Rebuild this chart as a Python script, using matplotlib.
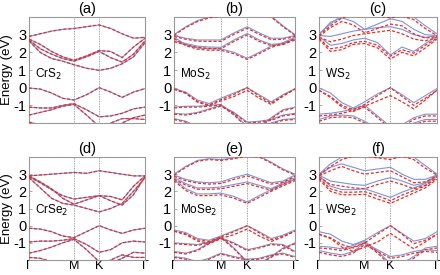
import matplotlib
matplotlib.use('Agg')
import matplotlib.pyplot as plt

plt.rcParams['font.family'] = ['Liberation Sans', 'DejaVu Sans']
plt.rcParams['axes.unicode_minus'] = False

# k-path sample points: Gamma, 3 pts, M, 1 pt, K, 3 pts, Gamma
K_POS = [0.0, 0.097, 0.194, 0.29, 0.387, 0.496, 0.605, 0.704, 0.803, 0.901, 1.0]
K_TICKS = [0.0, 0.387, 0.605, 1.0]
K_LABELS = ['Γ', 'M', 'K', 'Γ']

PANEL_TITLES = ['(a)', '(b)', '(c)', '(d)', '(e)', '(f)']
MATERIALS = ['CrS$_2$', 'MoS$_2$', 'WS$_2$', 'CrSe$_2$', 'MoSe$_2$', 'WSe$_2$']
LABEL_Y = [0.75, 0.75, 0.75, 0.9, 0.9, 0.9]

CRS2_BLUE = [
    [2.90, 3.05, 3.20, 3.30, 3.35, 3.45, 3.55, 3.35, 3.05, 2.80, 2.85],
    [2.75, 2.45, 2.05, 1.75, 1.55, 1.80, 2.10, 2.05, 1.70, 2.30, 2.80],
    [2.70, 2.20, 1.90, 1.65, 1.50, 1.75, 2.05, 1.70, 1.45, 1.90, 2.65],
    [2.65, 2.00, 1.65, 1.50, 1.30, 1.10, 0.98, 1.10, 1.35, 1.75, 2.55],
    [-0.02, -0.08, -0.30, -0.60, -0.70, -0.40, 0.00, -0.25, -0.55, -0.25, -0.05],
    [-1.10, -1.15, -1.15, -1.00, -0.90, -1.25, -1.65, -1.60, -1.45, -1.20, -1.10],
    [-1.55, -1.40, -1.25, -1.05, -0.95, -1.55, -2.20, -2.30, -2.00, -1.70, -1.55],
    [-1.95, -2.10, -2.30, -2.40, -2.50, -2.40, -2.30, -2.00, -1.75, -1.75, -1.80],
]
CRS2_RED = CRS2_BLUE

MOS2_BLUE = [
    [2.85, 2.45, 2.25, 2.20, 2.20, 2.00, 1.66, 2.00, 2.35, 2.55, 2.85],
    [2.65, 2.50, 2.35, 2.30, 2.28, 2.70, 3.07, 2.70, 2.45, 2.50, 2.75],
    [2.95, 2.80, 2.70, 2.70, 2.70, 3.10, 3.45, 3.10, 2.80, 2.80, 2.95],
    [3.00, 3.45, 3.80, 4.00, 4.10, 4.30, 4.40, 4.30, 4.05, 3.50, 3.00],
    [-0.05, -0.25, -0.70, -0.90, -0.60, -0.30, 0.00, -0.40, -0.80, -0.40, -0.05],
    [-1.10, -1.05, -1.05, -1.00, -0.95, -1.50, -2.20, -2.20, -1.70, -1.25, -1.10],
    [-1.45, -1.50, -1.40, -1.20, -1.00, -1.40, -1.95, -1.90, -1.80, -1.55, -1.45],
    [-1.75, -1.90, -2.20, -2.40, -2.50, -2.50, -2.50, -2.30, -2.00, -1.80, -1.75],
]
MOS2_RED = [
    [2.78, 2.38, 2.18, 2.12, 2.12, 1.92, 1.60, 1.92, 2.28, 2.48, 2.78],
    [2.60, 2.42, 2.28, 2.22, 2.20, 2.62, 2.98, 2.62, 2.38, 2.44, 2.70],
    [2.90, 2.74, 2.63, 2.62, 2.62, 3.02, 3.36, 3.02, 2.72, 2.74, 2.90],
    [2.96, 3.40, 3.74, 3.95, 4.05, 4.25, 4.35, 4.25, 4.00, 3.45, 2.96],
    [-0.08, -0.30, -0.78, -0.98, -0.68, -0.38, 0.00, -0.48, -0.88, -0.46, -0.08],
    [-0.08, -0.32, -0.82, -1.02, -0.75, -0.50, -0.15, -0.60, -0.95, -0.48, -0.08],
    [-1.15, -1.10, -1.10, -1.05, -0.98, -1.55, -2.25, -2.25, -1.75, -1.30, -1.15],
    [-1.50, -1.55, -1.45, -1.25, -1.05, -1.45, -2.00, -1.95, -1.85, -1.60, -1.50],
    [-1.80, -1.95, -2.25, -2.45, -2.55, -2.55, -2.55, -2.35, -2.05, -1.85, -1.80],
]

WS2_BLUE = [
    [2.90, 2.40, 2.50, 2.70, 2.80, 2.55, 1.85, 2.30, 2.05, 2.50, 2.90],
    [2.95, 2.90, 3.05, 3.20, 3.30, 3.40, 3.45, 3.30, 3.00, 2.85, 2.95],
    [3.00, 3.70, 3.95, 3.75, 3.30, 3.60, 3.90, 3.75, 3.30, 3.00, 2.95],
    [3.05, 3.60, 4.10, 4.30, 4.30, 4.20, 4.10, 4.20, 4.00, 3.50, 3.05],
    [-0.02, -0.30, -0.85, -1.15, -0.80, -0.35, 0.00, -0.40, -0.85, -0.45, -0.05],
    [-1.50, -1.45, -1.35, -1.20, -1.00, -1.60, -2.20, -2.10, -1.70, -1.50, -1.50],
    [-1.80, -1.60, -1.55, -1.60, -1.90, -2.30, -2.50, -2.30, -2.00, -1.80, -1.80],
]
WS2_RED = [
    [2.75, 2.05, 2.15, 2.45, 2.50, 2.25, 1.62, 2.00, 1.80, 2.25, 2.75],
    [2.80, 2.20, 2.30, 2.55, 2.62, 2.40, 1.78, 2.15, 1.95, 2.40, 2.80],
    [2.85, 2.60, 2.75, 2.95, 3.05, 3.15, 3.25, 3.05, 2.75, 2.65, 2.85],
    [2.90, 3.40, 3.75, 3.55, 3.10, 3.35, 3.60, 3.50, 3.05, 2.80, 2.90],
    [2.95, 3.50, 3.95, 4.15, 4.15, 4.05, 3.95, 4.05, 3.85, 3.35, 2.95],
    [-0.15, -0.50, -1.00, -1.25, -0.95, -0.45, 0.00, -0.50, -1.00, -0.60, -0.15],
    [-0.15, -0.55, -1.10, -1.35, -1.05, -0.75, -0.45, -0.80, -1.20, -0.70, -0.15],
    [-1.60, -1.55, -1.45, -1.30, -1.10, -1.70, -2.30, -2.20, -1.80, -1.60, -1.60],
    [-1.90, -1.70, -1.65, -1.70, -2.00, -2.40, -2.60, -2.40, -2.10, -1.90, -1.90],
]

CRSE2_BLUE = [
    [2.90, 2.95, 3.00, 3.05, 3.10, 3.05, 3.20, 3.10, 3.00, 2.90, 2.90],
    [2.85, 2.50, 2.10, 1.75, 1.55, 1.65, 1.75, 1.45, 1.20, 1.80, 2.85],
    [2.90, 2.55, 2.15, 1.60, 1.25, 1.50, 1.75, 1.70, 1.50, 2.30, 2.90],
    [2.80, 2.20, 1.60, 1.30, 1.20, 1.00, 0.80, 1.00, 1.30, 2.00, 2.80],
    [-0.15, -0.20, -0.35, -0.60, -0.70, -0.35, 0.00, -0.25, -0.45, -0.25, -0.15],
    [-0.95, -0.90, -0.90, -0.85, -0.75, -1.10, -1.55, -1.40, -1.00, -0.90, -0.95],
    [-1.60, -1.45, -1.25, -1.00, -0.80, -1.40, -2.10, -2.20, -1.90, -1.55, -1.60],
    [-1.85, -1.90, -2.10, -2.20, -2.30, -2.30, -2.30, -2.00, -1.70, -1.85, -1.85],
]
CRSE2_RED = CRSE2_BLUE

MOSE2_BLUE = [
    [2.70, 2.15, 1.85, 1.85, 1.90, 1.70, 1.38, 1.75, 2.10, 2.40, 2.70],
    [2.80, 2.45, 2.20, 2.20, 2.25, 2.40, 2.55, 2.35, 2.15, 2.50, 2.80],
    [2.95, 2.70, 2.55, 2.50, 2.55, 2.80, 3.00, 2.75, 2.50, 2.60, 2.95],
    [3.00, 3.45, 3.80, 3.90, 3.85, 3.95, 4.10, 4.05, 3.70, 3.30, 3.00],
    [-0.25, -0.40, -0.75, -0.85, -0.60, -0.30, 0.00, -0.35, -0.75, -0.55, -0.25],
    [-1.00, -1.05, -1.10, -0.95, -0.65, -1.30, -2.10, -2.20, -1.80, -1.30, -1.00],
    [-1.50, -1.60, -1.40, -1.00, -0.70, -1.00, -1.40, -1.25, -1.05, -1.10, -1.50],
    [-1.80, -1.90, -2.10, -1.90, -1.60, -1.80, -1.95, -1.90, -1.70, -1.60, -1.80],
]
MOSE2_RED = [
    [2.62, 2.05, 1.75, 1.75, 1.80, 1.60, 1.30, 1.65, 2.00, 2.32, 2.62],
    [2.72, 2.36, 2.12, 2.12, 2.15, 2.30, 2.45, 2.25, 2.06, 2.42, 2.72],
    [2.88, 2.62, 2.48, 2.42, 2.46, 2.70, 2.90, 2.66, 2.42, 2.52, 2.88],
    [2.95, 3.40, 3.75, 3.85, 3.80, 3.90, 4.05, 4.00, 3.65, 3.25, 2.95],
    [-0.32, -0.48, -0.82, -0.92, -0.66, -0.35, 0.00, -0.42, -0.82, -0.62, -0.32],
    [-0.32, -0.52, -0.90, -1.02, -0.75, -0.52, -0.20, -0.60, -0.92, -0.66, -0.32],
    [-1.05, -1.10, -1.15, -1.00, -0.70, -1.35, -2.15, -2.25, -1.85, -1.35, -1.05],
    [-1.55, -1.65, -1.45, -1.05, -0.75, -1.05, -1.45, -1.30, -1.10, -1.15, -1.55],
    [-1.85, -1.95, -2.15, -1.95, -1.65, -1.85, -2.00, -1.95, -1.75, -1.65, -1.85],
]

WSE2_BLUE = [
    [2.90, 2.30, 2.10, 2.10, 2.15, 1.90, 1.65, 1.95, 2.20, 2.45, 2.90],
    [2.95, 2.60, 2.50, 2.40, 2.35, 2.60, 2.80, 2.60, 2.35, 2.50, 2.95],
    [2.95, 3.40, 3.60, 3.40, 3.20, 3.30, 3.40, 3.00, 2.70, 2.70, 2.95],
    [3.00, 3.60, 4.00, 4.20, 4.20, 4.10, 4.00, 4.20, 4.00, 3.50, 3.00],
    [-0.35, -0.50, -0.90, -1.10, -0.85, -0.40, 0.00, -0.45, -0.90, -0.75, -0.35],
    [-1.20, -1.25, -1.35, -1.15, -0.90, -1.50, -2.20, -2.20, -1.80, -1.30, -1.20],
    [-1.45, -1.60, -1.70, -1.50, -1.00, -1.40, -1.80, -1.70, -1.50, -1.40, -1.45],
]
WSE2_RED = [
    [2.70, 2.00, 1.80, 1.80, 1.82, 1.55, 1.30, 1.60, 1.90, 2.20, 2.70],
    [2.78, 2.15, 1.95, 1.95, 1.98, 1.75, 1.45, 1.78, 2.05, 2.32, 2.78],
    [2.85, 2.40, 2.30, 2.20, 2.15, 2.40, 2.60, 2.40, 2.15, 2.35, 2.85],
    [2.90, 3.20, 3.45, 3.20, 3.00, 3.10, 3.20, 2.85, 2.50, 2.55, 2.90],
    [2.95, 3.45, 3.85, 4.05, 4.05, 3.95, 3.85, 4.05, 3.85, 3.35, 2.95],
    [-0.50, -0.70, -1.10, -1.30, -1.00, -0.50, 0.00, -0.50, -1.05, -0.85, -0.50],
    [-0.50, -0.75, -1.25, -1.50, -1.25, -0.95, -0.45, -0.90, -1.35, -0.95, -0.50],
    [-1.30, -1.35, -1.45, -1.25, -1.00, -1.60, -2.30, -2.30, -1.90, -1.40, -1.30],
    [-1.55, -1.70, -1.80, -1.60, -1.10, -1.50, -1.90, -1.80, -1.60, -1.50, -1.55],
]

BLUE_SETS = [CRS2_BLUE, MOS2_BLUE, WS2_BLUE, CRSE2_BLUE, MOSE2_BLUE, WSE2_BLUE]
RED_SETS = [CRS2_RED, MOS2_RED, WS2_RED, CRSE2_RED, MOSE2_RED, WSE2_RED]

# axes boxes in pixels (left, right, top, bottom) on a 440x275 canvas
COL_X = [(29, 145), (174, 295), (319, 437)]
ROW_Y = [(17, 123), (157, 260)]
W, H = 440.0, 275.0

BLUE = '#7f93d6'
RED = '#e3302b'
GRID = '#888888'

fig = plt.figure(figsize=(4.4, 2.75), dpi=100)

for i in range(6):
    r, c = divmod(i, 3)
    x0, x1 = COL_X[c]
    y0, y1 = ROW_Y[r]
    ax = fig.add_axes([x0 / W, 1 - y1 / H, (x1 - x0) / W, (y1 - y0) / H])

    for band in BLUE_SETS[i]:
        ax.plot(K_POS, band, color=BLUE, lw=0.8, zorder=2)
    for band in RED_SETS[i]:
        ax.plot(K_POS, band, color=RED, lw=0.9, ls=(0, (2.5, 1.5)), zorder=3)

    for xk in K_TICKS[1:3]:
        ax.axvline(xk, color=GRID, lw=0.6, ls=(0, (1, 1)), zorder=1)

    ax.set_xlim(0, 1)
    ax.set_ylim(-2, 4)
    ax.set_yticks([-1, 0, 1, 2, 3])
    ax.set_xticks(K_TICKS)
    if r == 1:
        ax.set_xticklabels(K_LABELS, fontsize=9)
    else:
        ax.set_xticklabels([])
    ax.tick_params(axis='y', direction='in', length=2, width=0.5, color=GRID,
                   labelsize=10.5, pad=2)
    ax.tick_params(axis='x', length=0, pad=0)
    for sp in ax.spines.values():
        sp.set_color('#999999')
        sp.set_linewidth(0.8)

    ax.set_title(PANEL_TITLES[i], fontsize=10.5, pad=3)
    ax.text(0.05, LABEL_Y[i], MATERIALS[i], fontsize=8.5, va='center', ha='left',
            zorder=4)
    if c == 0:
        ax.set_ylabel('Energy (eV)', fontsize=9.5)
        ax.yaxis.set_label_coords(-0.14, 0.5)

fig.savefig('out.png', dpi=100)
